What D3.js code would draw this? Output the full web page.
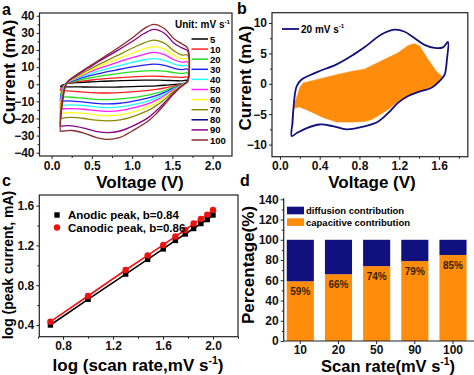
<!DOCTYPE html>
<html>
<head>
<meta charset="utf-8">
<script src="https://cdn.jsdelivr.net/npm/d3@7"></script>
<style>
body { margin: 0; background: #fff; }
svg { font-family: 'Liberation Sans', Arial, sans-serif; font-weight: bold; }
</style>
</head>
<body>
<svg id="fig" width="474" height="375"></svg>
<script>
// panel a: CV loops at each scan rate (mV/s)
const rates = [5, 10, 20, 30, 40, 50, 60, 70, 80, 90, 100]
const rateColors = ['#000000', '#ff2020', '#22dd22', '#2020ff', '#20ffff', '#ff20ff', '#ffff20', '#8a8a00', '#00008a', '#8a008a', '#8b2b2b']
const upV = [0.11, 0.13, 0.17, 0.2, 0.3, 0.45, 0.6, 0.8, 1.0, 1.15, 1.27, 1.4, 1.52, 1.62, 1.69]
const downV = [1.69, 1.66, 1.6, 1.5, 1.4, 1.3, 1.2, 1.0, 0.85, 0.7, 0.55, 0.4, 0.25, 0.15, 0.115]
// anodic sweep current (mA), one row per scan rate; 80 mV/s is not visible in the figure
const upI = [
    [-1.5, -0.6, 0.1, 0.5, 0.9, 1.3, 1.7, 2.0, 2.3, 2.4, 2.4, 2.3, 2.1, 2.0, 2.3],
    [-3.5, -1.5, 0, 0.7, 1.4, 2.2, 3.0, 3.7, 4.3, 4.6, 4.7, 4.5, 4.2, 4.0, 4.2],
    [-7.5, -3, 0, 0.8, 2.0, 3.5, 4.8, 6.1, 7.2, 7.8, 8.0, 7.6, 6.8, 6.3, 6.6],
    [-10, -4, 0, 1.0, 2.6, 4.7, 6.4, 8.3, 10.1, 11.2, 11.7, 11.0, 9.3, 8.5, 8.8],
    [-12.5, -5, 0, 1.1, 3.1, 5.7, 7.9, 10.4, 12.8, 14.3, 15.0, 14.0, 11.8, 10.8, 11],
    [-14.5, -6, -0.3, 1.2, 3.5, 6.7, 9.4, 12.5, 15.5, 17.5, 18.6, 17.3, 14.3, 12.8, 13],
    [-17, -7, -0.5, 1.3, 3.9, 7.4, 10.7, 14.4, 18.1, 20.8, 22, 20.5, 16.8, 14.8, 15],
    [-20, -8, -0.6, 1.4, 4.3, 8.2, 11.9, 16.4, 21, 24.2, 25.8, 24, 19.5, 17, 17],
    null,
    [-24.5, -11, -1, 1.5, 4.9, 9.3, 13.7, 19.2, 25, 29.6, 32, 29.8, 24, 21.2, 19.5],
    [-27.5, -13, -1.5, 1.6, 5.2, 9.9, 14.4, 20.4, 27, 32.5, 35, 32.5, 26.5, 23.5, 21]
]
// cathodic sweep current (mA)
const downI = [
    [1.8, 0.8, 0.2, -0.2, -0.6, -0.9, -1.1, -1.4, -1.6, -1.7, -1.7, -1.6, -1.5, -1.5, -1.5],
    [1.8, 0.8, -0.2, -1.2, -2.2, -3.0, -3.6, -4.4, -4.9, -5.1, -5.0, -4.6, -4.0, -3.7, -3.5],
    [1.8, 0.8, -0.5, -2.0, -3.8, -5.2, -6.3, -7.8, -8.6, -9.0, -8.8, -8.2, -7.6, -7.4, -7.5],
    [1.8, 0.8, -0.7, -2.6, -4.8, -6.6, -8.0, -10, -11.1, -11.5, -11.2, -10.4, -9.8, -9.8, -10],
    [1.8, 0.8, -0.9, -3.1, -5.8, -8.0, -9.7, -12, -13.2, -13.6, -13.2, -12.4, -12, -12.2, -12.5],
    [1.8, 0.7, -1.0, -3.6, -6.7, -9.3, -11.3, -14, -15.4, -15.8, -15.4, -14.6, -14.2, -14.3, -14.5],
    [1.8, 0.7, -1.2, -4.2, -7.8, -10.8, -13.2, -16.3, -17.9, -18.4, -18, -17, -16.6, -16.8, -17],
    [1.8, 0.6, -1.4, -4.8, -9, -12.5, -15.3, -19, -20.8, -21.4, -21, -20, -19.4, -19.6, -20],
    null,
    [1.8, 0.5, -1.6, -5.8, -10.8, -15.5, -19.5, -24.6, -27.3, -28.3, -27.5, -25.6, -24.3, -24.3, -24.5],
    [1.8, 0.4, -1.8, -6.5, -12, -17.2, -21.5, -27.3, -31, -32.2, -31, -28.5, -27, -27.3, -27.5]
]

// panel b: 20 mV/s loop and the capacitive part
const cvV = [0.118, 0.125, 0.135, 0.168, 0.218, 0.3, 0.4, 0.57, 0.74, 0.85, 1.02, 1.15, 1.25, 1.355, 1.455, 1.556, 1.64, 1.69, 1.68, 1.657, 1.62, 1.52, 1.42, 1.29, 1.19, 1.09, 0.99, 0.85, 0.67, 0.54, 0.4, 0.27, 0.17]
const cvI = [-8.6, -6.5, -4.2, -0.4, 0.7, 1.4, 2.1, 3.2, 4.8, 6.0, 8.1, 8.9, 8.6, 7.5, 6.4, 5.9, 6.0, 6.9, 4.0, 1.5, 0.7, -0.7, -1.2, -2.0, -3.1, -4.8, -6.2, -7.0, -7.5, -7.0, -6.7, -7.3, -8.1]
const capV = [0.128, 0.138, 0.15, 0.2, 0.235, 0.4, 0.57, 0.74, 0.85, 1.05, 1.19, 1.29, 1.355, 1.405, 1.49, 1.57, 1.63, 1.57, 1.455, 1.32, 1.19, 1.09, 0.985, 0.92, 0.85, 0.74, 0.57, 0.44, 0.3, 0.2, 0.14]
const capI = [-7.0, -4.0, -3.2, -0.6, 0.15, 0.8, 1.5, 2.1, 2.4, 4.0, 5.1, 6.3, 6.6, 6.2, 4.0, 2.1, 1.2, -0.1, -1.0, -1.8, -2.9, -4.2, -5.3, -5.9, -6.2, -6.3, -6.3, -5.6, -4.5, -3.8, -4.0]

// panel c: log(peak current) vs log(scan rate)
const logRate = [0.699, 1.0, 1.301, 1.477, 1.602, 1.699, 1.778, 1.845, 1.903, 1.954, 2.0]
const anodic = [0.40, 0.658, 0.912, 1.06, 1.165, 1.25, 1.315, 1.37, 1.42, 1.46, 1.506]
const cathodic = [0.433, 0.691, 0.953, 1.10, 1.205, 1.29, 1.355, 1.42, 1.465, 1.51, 1.557]

// panel d: contribution ratio
const scanCats = ['10', '20', '50', '90', '100']
const capacitive = [59, 66, 74, 79, 85]
const diffusion = [41, 34, 26, 21, 15]

const navy = '#10107e'
const orange = '#ff8c0a'
const svg = d3.select('#fig')

function supText(g, x, y, fs, base, sup, tail, anchor, rotate) {
    const t = g.append('text')
        .attr('font-size', fs)
        .attr('text-anchor', anchor || 'start')
        .attr('transform', rotate ? `translate(${x},${y}) rotate(-90)` : `translate(${x},${y})`)
    t.append('tspan').text(base)
    if (sup) {
        t.append('tspan').attr('dy', -fs * 0.42).attr('font-size', fs * 0.62).text(sup)
        t.append('tspan').attr('dy', fs * 0.42).text(tail)
    }
    return t
}

function styleAxis(a, fs) {
    a.select('.domain').remove()
    a.selectAll('line').attr('stroke', '#222').attr('stroke-width', 1)
    a.selectAll('text').attr('font-size', fs).attr('font-family', null).attr('fill', '#111')
}

function frame(x0, y0, x1, y1) {
    svg.append('rect')
        .attr('x', x0).attr('y', y0).attr('width', x1 - x0).attr('height', y1 - y0)
        .attr('fill', 'none').attr('stroke', '#222').attr('stroke-width', 1.2)
}

function addAxes(x, y, major, minorX, minorY, fmtX, fmtY) {
    const [x0] = x.range()
    const [y0] = y.range()
    const gx = svg.append('g').attr('transform', `translate(0,${y0})`)
        .call(d3.axisBottom(x).tickValues(major.x).tickSize(3).tickPadding(2).tickFormat(fmtX))
    styleAxis(gx, 12)
    const gxm = svg.append('g').attr('transform', `translate(0,${y0})`)
        .call(d3.axisBottom(x).tickValues(minorX).tickSize(2).tickFormat(''))
    styleAxis(gxm, 12)
    const gy = svg.append('g').attr('transform', `translate(${x0},0)`)
        .call(d3.axisLeft(y).tickValues(major.y).tickSize(3).tickPadding(2).tickFormat(fmtY))
    styleAxis(gy, 12)
    const gym = svg.append('g').attr('transform', `translate(${x0},0)`)
        .call(d3.axisLeft(y).tickValues(minorY).tickSize(2).tickFormat(''))
    styleAxis(gym, 12)
}

function letter(t, x, y) {
    svg.append('text').attr('x', x).attr('y', y).attr('font-size', 16).text(t)
}

// ---------- panel a
{
    const x = d3.scaleLinear().domain([-0.15, 2.24]).range([39.5, 232])
    const y = d3.scaleLinear().domain([-41.9, 41.6]).range([156, 13])
    const line = d3.line().x(d => x(d[0])).y(d => y(d[1])).curve(d3.curveCatmullRomClosed.alpha(0.5))
    const plot = svg.append('g')
    rates.forEach((r, k) => {
        if (!upI[k]) return
        const pts = upV.map((v, j) => [v, upI[k][j]]).concat(downV.map((v, j) => [v, downI[k][j]]))
        plot.append('path').attr('d', line(pts)).attr('fill', 'none')
            .attr('stroke', rateColors[k]).attr('stroke-width', 1.3)
    })
    frame(39.5, 13, 232, 156)
    addAxes(x, y, { x: [0, 0.5, 1, 1.5, 2], y: d3.range(-40, 41, 10) },
        [0.25, 0.75, 1.25, 1.75], d3.range(-35, 40, 10), d3.format('.1f'), d3.format('d'))

    const lg = svg.append('g')
    supText(lg, 175, 28, 10, 'Unit: mV s', '-1', '')
    rates.forEach((r, k) => {
        const yy = 39 + k * 10.1
        lg.append('line').attr('x1', 191.5).attr('x2', 208).attr('y1', yy).attr('y2', yy)
            .attr('stroke', rateColors[k]).attr('stroke-width', 1.5)
        lg.append('text').attr('x', 210).attr('y', yy + 3.5).attr('font-size', 9.5).text(r)
    })
    supText(svg, 140, 188, 17, 'Voltage (V)', null, null, 'middle')
    supText(svg, 15, 72, 17, 'Current (mA)', null, null, 'middle', true)
    letter('a', 2, 15)
}

// ---------- panel b
{
    const x = d3.scaleLinear().domain([-0.08, 1.89]).range([272, 467.8])
    const y = d3.scaleLinear().domain([-12, 11.7]).range([156.7, 12.7])
    const closed = d3.line().x(d => x(d[0])).y(d => y(d[1])).curve(d3.curveLinearClosed)
    const smooth = d3.line().x(d => x(d[0])).y(d => y(d[1])).curve(d3.curveCatmullRomClosed.alpha(0.5))
    svg.append('path').attr('d', closed(capV.map((v, i) => [v, capI[i]])))
        .attr('fill', orange).attr('stroke', orange).attr('stroke-width', 0.6)
    svg.append('path').attr('d', smooth(cvV.map((v, i) => [v, cvI[i]])))
        .attr('fill', 'none').attr('stroke', navy).attr('stroke-width', 1.8)
    frame(272, 12.7, 467.8, 156.7)
    addAxes(x, y, { x: [0, 0.4, 0.8, 1.2, 1.6], y: [-10, -5, 0, 5, 10] },
        [0.2, 0.6, 1.0, 1.4, 1.8], [-7.5, -2.5, 2.5, 7.5], d3.format('.1f'), d3.format('d'))
    svg.append('line').attr('x1', 282).attr('x2', 299).attr('y1', 29).attr('y2', 29)
        .attr('stroke', navy).attr('stroke-width', 1.8)
    supText(svg, 301, 32.5, 10, '20 mV s', '-1', '')
    supText(svg, 372, 188, 17, 'Voltage (V)', null, null, 'middle')
    supText(svg, 251, 78, 17, 'Current (mA)', null, null, 'middle', true)
    letter('b', 237, 14)
}

// ---------- panel c
{
    const x = d3.scaleLinear().domain([0.61, 2.2]).range([39.3, 238])
    const y = d3.scaleLinear().domain([0.282, 1.707]).range([336.7, 195])
    const line = d3.line().x((d, i) => x(logRate[i])).y(d => y(d))
    svg.append('path').attr('d', line(anodic)).attr('fill', 'none').attr('stroke', '#000').attr('stroke-width', 1.6)
    svg.append('path').attr('d', line(cathodic)).attr('fill', 'none').attr('stroke', '#ee1111').attr('stroke-width', 1.6)
    svg.selectAll('.sq').data(anodic).enter().append('rect')
        .attr('x', (d, i) => x(logRate[i]) - 2.7).attr('y', d => y(d) - 2.7)
        .attr('width', 5.4).attr('height', 5.4).attr('fill', '#000')
    svg.selectAll('.ci').data(cathodic).enter().append('circle')
        .attr('cx', (d, i) => x(logRate[i])).attr('cy', d => y(d)).attr('r', 3.2).attr('fill', '#ee1111')
    frame(39.3, 195, 238, 336.7)
    addAxes(x, y, { x: [0.8, 1.2, 1.6, 2.0], y: [0.4, 0.8, 1.2, 1.6] },
        [0.6, 1.0, 1.4, 1.8, 2.2], [0.6, 1.0, 1.4], d3.format('.1f'), d3.format('.1f'))
    svg.append('rect').attr('x', 54.3).attr('y', 212.3).attr('width', 5.4).attr('height', 5.4).attr('fill', '#000')
    svg.append('text').attr('x', 68).attr('y', 219).attr('font-size', 11.5).text('Anodic peak, b=0.84')
    svg.append('circle').attr('cx', 57).attr('cy', 227.5).attr('r', 3.2).attr('fill', '#ee1111')
    svg.append('text').attr('x', 68).attr('y', 231.5).attr('font-size', 11.5).text('Canodic peak, b=0.86')
    supText(svg, 138, 371, 17, 'log (scan rate,mV s', '-1', ')', 'middle')
    supText(svg, 13, 265, 14, 'log (peak current, mA)', null, null, 'middle', true)
    letter('c', 2, 186)
}

// ---------- panel d
{
    const x = d3.scaleBand().domain(scanCats).range([283.7, 469.6]).paddingInner(0.29).paddingOuter(0.08)
    const y = d3.scaleLinear().domain([0, 141]).range([341, 198.3])
    const stack = scanCats.map((c, i) => ({ c, cap: capacitive[i], dif: diffusion[i] }))
    svg.selectAll('.cap').data(stack).enter().append('rect')
        .attr('x', d => x(d.c)).attr('width', x.bandwidth())
        .attr('y', d => y(d.cap)).attr('height', d => y(0) - y(d.cap)).attr('fill', orange)
    svg.selectAll('.dif').data(stack).enter().append('rect')
        .attr('x', d => x(d.c)).attr('width', x.bandwidth())
        .attr('y', d => y(d.cap + d.dif)).attr('height', d => y(d.cap) - y(d.cap + d.dif)).attr('fill', navy)
    svg.selectAll('.lbl').data(stack).enter().append('text')
        .attr('x', d => x(d.c) + x.bandwidth() / 2).attr('y', d => y(d.cap) + 14)
        .attr('text-anchor', 'middle').attr('font-size', 10).attr('fill', '#3a1e00')
        .text(d => d.cap + '%')
    const gy = svg.append('g').attr('transform', 'translate(283.7,0)')
        .call(d3.axisLeft(y).tickValues(d3.range(0, 141, 20)).tickSize(3).tickPadding(2))
    styleAxis(gy, 12)
    const gym = svg.append('g').attr('transform', 'translate(283.7,0)')
        .call(d3.axisLeft(y).tickValues(d3.range(10, 140, 20)).tickSize(2).tickFormat(''))
    styleAxis(gym, 12)
    const gx = svg.append('g').attr('transform', 'translate(0,341)')
        .call(d3.axisBottom(x).tickSize(3).tickPadding(1))
    styleAxis(gx, 12)
    svg.append('line').attr('x1', 283.7).attr('x2', 283.7).attr('y1', 198.3).attr('y2', 341).attr('stroke', '#222').attr('stroke-width', 1.2)
    svg.append('line').attr('x1', 283.7).attr('x2', 474).attr('y1', 341).attr('y2', 341).attr('stroke', '#222').attr('stroke-width', 1.2)
    svg.append('rect').attr('x', 287).attr('y', 206.7).attr('width', 17).attr('height', 7.6).attr('fill', navy)
    svg.append('text').attr('x', 306).attr('y', 214).attr('font-size', 9.5).text('diffusion contribution')
    svg.append('rect').attr('x', 287).attr('y', 218.3).attr('width', 17).attr('height', 7.6).attr('fill', orange)
    svg.append('text').attr('x', 306).attr('y', 225.5).attr('font-size', 9.5).text('capacitive contribution')
    supText(svg, 388, 372, 16.5, 'Scan rate(mV s', '-1', ')', 'middle')
    supText(svg, 254, 265, 17, 'Percentage(%)', null, null, 'middle', true)
    letter('d', 240, 186)
}
</script>
</body>
</html>
